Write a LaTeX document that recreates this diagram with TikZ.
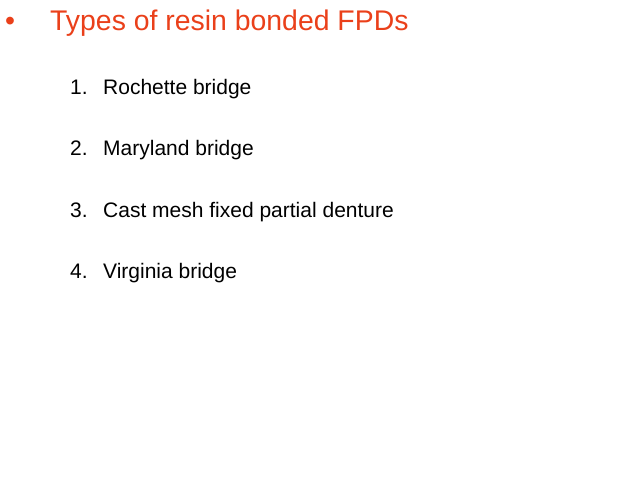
\documentclass[tikz,border=0pt]{standalone}
\usepackage{fontspec}
\setmainfont{Liberation Sans}
\definecolor{titlered}{RGB}{234,64,26}
\begin{document}
\begin{tikzpicture}[x=1pt,y=-1pt,
  title/.style={anchor=base west,inner sep=0pt,text=titlered,font=\fontsize{28.4}{32}\selectfont},
  item/.style={anchor=base west,inner sep=0pt,font=\fontsize{21}{25}\selectfont}]
\useasboundingbox (0,0) rectangle (638,478);
\node[title] (b) at (5,31) {•};
\node[title] (t) at (50,31) {Types of resin bonded FPDs};
\node[item] (n1) at (70,95) {1.};
\node[item] (i1) at (103,95) {Rochette bridge};
\node[item] (n2) at (70,156) {2.};
\node[item] (i2) at (103,156) {Maryland bridge};
\node[item] (n3) at (70,218) {3.};
\node[item] (i3) at (103,218) {Cast mesh fixed partial denture};
\node[item] (n4) at (70,279) {4.};
\node[item] (i4) at (103,279) {Virginia bridge};
\end{tikzpicture}
\end{document}
